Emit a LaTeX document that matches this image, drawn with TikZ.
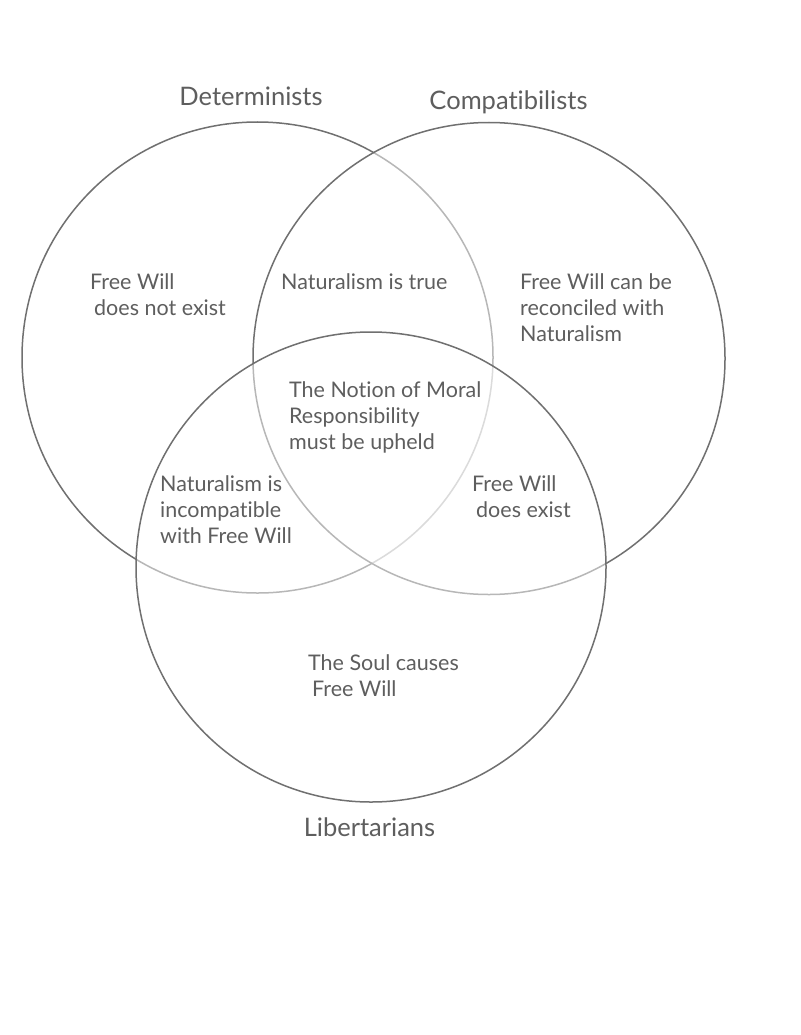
\documentclass[tikz,border=0pt]{standalone}
\usepackage{fontspec}
\setmainfont{Lato}[Ligatures=NoCommon]
\definecolor{ringcol}{HTML}{707070}
\definecolor{txtcol}{HTML}{5E5E5E}
\tikzset{
  ring/.style={draw=ringcol, line width=1.5pt, fill=white, fill opacity=0.5},
  body/.style={anchor=base west, inner sep=0pt, text=txtcol, font=\fontsize{21.5pt}{26pt}\selectfont},
  title/.style={anchor=base, inner sep=0pt, text=txtcol, font=\fontsize{25.5pt}{30pt}\selectfont}
}
\begin{document}
\begin{tikzpicture}[x=1pt,y=-1pt]
\useasboundingbox[fill=white] (0,0) rectangle (800,1035);
\draw[ring] (257.5,357.5) circle (235.5pt);
\draw[ring] (489,358.5) circle (236pt);
\draw[ring] (371,567) circle (235pt);
\node[title] (tD) at (251,106) {Determinists};
\node[title] (tC) at (508.5,110) {Compatibilists};
\node[title] (tL) at (369.5,836) {Libertarians};
\node[body] (d1) at (90,289) {Free Will};
\node[body] (d2) at (94,315) {does not exist};
\node[body] (n1) at (281,289) {Naturalism is true};
\node[body] (c1) at (520,289) {Free Will can be};
\node[body] (c2) at (520,315) {reconciled with};
\node[body] (c3) at (520,341) {Naturalism};
\node[body] (m1) at (289,397) {The Notion of Moral};
\node[body] (m2) at (289,423) {Responsibility};
\node[body] (m3) at (289,449) {must be upheld};
\node[body] (i1) at (160,491) {Naturalism is};
\node[body] (i2) at (160,517) {incompatible};
\node[body] (i3) at (160,543) {with Free Will};
\node[body] (e1) at (472,491) {Free Will};
\node[body] (e2) at (476,517) {does exist};
\node[body] (s1) at (308,670) {The Soul causes};
\node[body] (s2) at (312,696) {Free Will};
\end{tikzpicture}
\end{document}
